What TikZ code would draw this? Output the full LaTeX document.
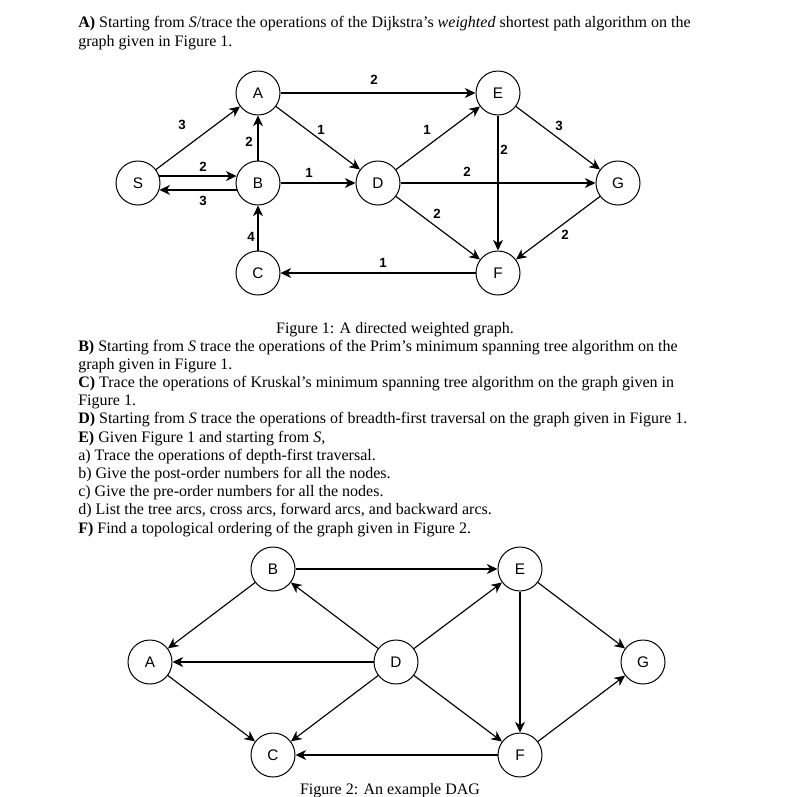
\documentclass[tikz,border=0pt]{standalone}
\usepackage{fontspec}
\setmainfont{Liberation Serif}
\newfontfamily\arialfont{Liberation Sans}
\usetikzlibrary{arrows.meta}

\newcommand*{\pagew}{792}
\newcommand*{\pageh}{797}

\begin{document}
\begin{tikzpicture}
[
	x=0.75pt, y=-0.75pt,
	vertex/.style={circle,draw,line width=0.75pt,minimum size=33pt,inner sep=0pt,font=\arialfont\fontsize{11.5}{13}\selectfont},
	arc/.style={-{Stealth[length=8pt,width=7.5pt,inset=2.5pt]},line width=0.85pt},
	wt/.style={inner sep=0pt,font=\arialfont\bfseries\fontsize{10}{12}\selectfont},
	txt/.style={inner sep=0pt,anchor=base west,font=\fontsize{12}{13.7}\selectfont},
	figcap/.style={inner sep=0pt,anchor=base,font=\fontsize{12}{13.7}\selectfont}
]

	% page
	\useasboundingbox (0,0) rectangle (\pagew,\pageh);

	% question A
	\node[txt] (qa1) at (78,27) {\textbf{A)} Starting from \textit{S}/trace the operations of the Dijkstra's \textit{weighted} shortest path algorithm on the};
	\node[txt] (qa2) at (78,46) {graph given in Figure 1.};

	% figure 1
	\node[vertex] (S) at (138,183) {S};
	\node[vertex] (A) at (258,93) {A};
	\node[vertex] (B) at (258,183) {B};
	\node[vertex] (C) at (258,273) {C};
	\node[vertex] (D) at (378,183) {D};
	\node[vertex] (E) at (498,93) {E};
	\node[vertex] (F) at (498,273) {F};
	\node[vertex] (G) at (618,183) {G};

	\draw[arc] (S) -- (A);
	\draw[arc] (S.18) -- (B.162);
	\draw[arc] (B.198) -- (S.342);
	\draw[arc] (B) -- (A);
	\draw[arc] (C) -- (B);
	\draw[arc] (A) -- (D);
	\draw[arc] (B) -- (D);
	\draw[arc] (A) -- (E);
	\draw[arc] (D) -- (E);
	\draw[arc] (D) -- (G);
	\draw[arc] (D) -- (F);
	\draw[arc] (E) -- (F);
	\draw[arc] (E) -- (G);
	\draw[arc] (G) -- (F);
	\draw[arc] (F) -- (C);

	% weights
	\node[wt] (wSA) at (182,125) {3};
	\node[wt] (wSB) at (203,167) {2};
	\node[wt] (wBS) at (203,201) {3};
	\node[wt] (wBA) at (249,142) {2};
	\node[wt] (wAD) at (321,130) {1};
	\node[wt] (wBD) at (309,173) {1};
	\node[wt] (wCB) at (251,237) {4};
	\node[wt] (wFC) at (383,263) {1};
	\node[wt] (wAE) at (374,80) {2};
	\node[wt] (wDE) at (427,130) {1};
	\node[wt] (wEF) at (504,150) {2};
	\node[wt] (wEG) at (559,126) {3};
	\node[wt] (wDG) at (467,172) {2};
	\node[wt] (wDF) at (437,214) {2};
	\node[wt] (wGF) at (565,235) {2};

	\node[figcap] (cap1) at (395,333) {Figure 1: A directed weighted graph.};

	% questions B to F
	\foreach \n/\y/\t in {
		1/351/{\textbf{B)} Starting from \textit{S} trace the operations of the Prim's minimum spanning tree algorithm on the},
		2/369.2/{graph given in Figure 1.},
		3/387.4/{\textbf{C)} Trace the operations of Kruskal's minimum spanning tree algorithm on the graph given in},
		4/405.6/{Figure 1.},
		5/423.8/{\textbf{D)} Starting from \textit{S} trace the operations of breadth-first traversal on the graph given in Figure 1.},
		6/442/{\textbf{E)} Given Figure 1 and starting from \textit{S,}},
		7/460.2/{a) Trace the operations of depth-first traversal.},
		8/478.4/{b) Give the post-order numbers for all the nodes.},
		9/496.6/{c) Give the pre-order numbers for all the nodes.},
		10/514.8/{d) List the tree arcs, cross arcs, forward arcs, and backward arcs.},
		11/533/{\textbf{F)} Find a topological ordering of the graph given in Figure 2.}}
		\node[txt] (qb\n) at (78,\y) {\t};

	% figure 2
	\node[vertex] (dA) at (150,662) {A};
	\node[vertex] (dB) at (273,569) {B};
	\node[vertex] (dC) at (273,755) {C};
	\node[vertex] (dD) at (396,662) {D};
	\node[vertex] (dE) at (520,569) {E};
	\node[vertex] (dF) at (520,755) {F};
	\node[vertex] (dG) at (643,662) {G};

	\draw[arc] (dB) -- (dA);
	\draw[arc] (dD) -- (dB);
	\draw[arc] (dD) -- (dA);
	\draw[arc] (dA) -- (dC);
	\draw[arc] (dD) -- (dC);
	\draw[arc] (dB) -- (dE);
	\draw[arc] (dD) -- (dE);
	\draw[arc] (dD) -- (dF);
	\draw[arc] (dE) -- (dF);
	\draw[arc] (dE) -- (dG);
	\draw[arc] (dF) -- (dG);
	\draw[arc] (dF) -- (dC);

	\node[figcap] (cap2) at (390,794) {Figure 2: An example DAG};

\end{tikzpicture}
\end{document}
